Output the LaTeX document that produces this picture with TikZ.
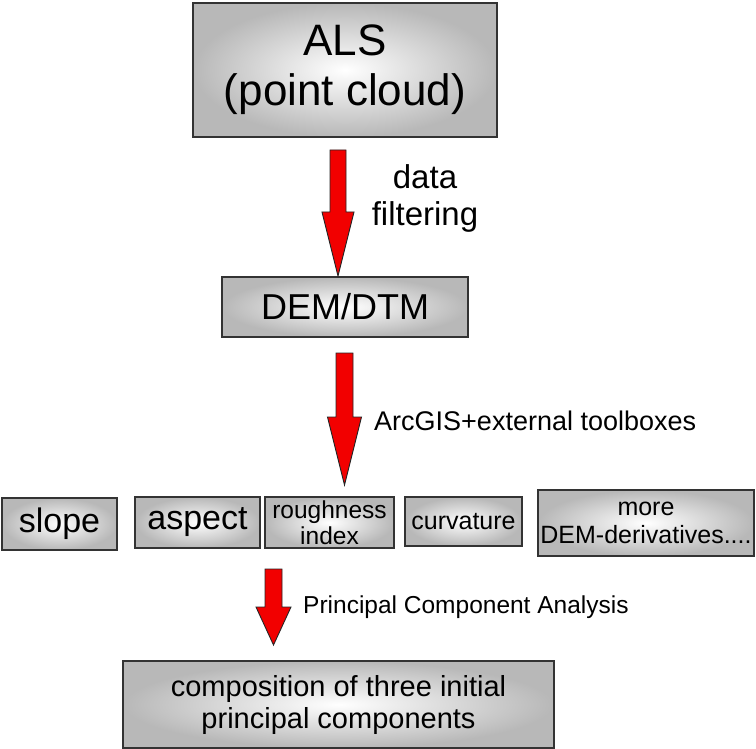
\documentclass[tikz,border=0pt]{standalone}
\usepackage{fontspec}
\setmainfont{Liberation Sans}
\usetikzlibrary{calc}
\newcommand\fatarr[5]{% start, tip, half shaft, half head, head length
  \draw[fill=red!95!black,draw=black!85,line width=0.9pt,line join=miter]
    let \p1=(#1), \p2=(#2) in
    (\x1-#3,\y1) -- (\x1+#3,\y1) -- (\x1+#3,\y2+#5) -- (\x1+#4,\y2+#5) -- (\x2,\y2)
    -- (\x1-#4,\y2+#5) -- (\x1-#3,\y2+#5) -- cycle;}
\begin{document}
\begin{tikzpicture}[x=1pt,y=-1pt,
  box/.style={draw=black!80,line width=1.2pt,inner color=white,outer color=black!28,shading=radial,align=center,inner sep=0pt},
  lbl/.style={align=center,inner sep=0pt}]
\useasboundingbox (0,0) rectangle (756,749);
\node[box,minimum width=304,minimum height=134,font=\fontsize{44}{50}\selectfont] (als) at (345,70) {ALS\\(point cloud)};
\node[box,minimum width=246,minimum height=60,font=\fontsize{36}{40}\selectfont] (dem) at (345,307) {DEM/DTM};
\node[box,minimum width=115,minimum height=52,font=\fontsize{34}{36}\selectfont] (slope) at (59.5,524) {slope};
\node[box,minimum width=125,minimum height=51,font=\fontsize{34}{36}\selectfont] (aspect) at (197.5,522.5) {aspect};
\node[box,minimum width=129,minimum height=51,font=\fontsize{24.5}{26}\selectfont] (rough) at (329.5,522.5) {roughness\\index};
\node[box,minimum width=117,minimum height=49,font=\fontsize{25}{28}\selectfont] (curv) at (463.5,521.5) {curvature};
\node[box,minimum width=216,minimum height=66,font=\fontsize{25}{28}\selectfont] (more) at (646,523) {more\\DEM-derivatives....};
\node[box,minimum width=431,minimum height=87,font=\fontsize{29}{32}\selectfont] (comp) at (338.5,704.5) {composition of three initial\\principal components};
\coordinate (a1s) at (338,150);
\coordinate (a1e) at (338,276);
\fatarr{a1s}{a1e}{8}{16}{64}
\node[lbl,font=\fontsize{33}{37}\selectfont] (t1) at (425,198) {data\\filtering};
\coordinate (a2s) at (344.5,353);
\coordinate (a2e) at (344.5,485);
\fatarr{a2s}{a2e}{8.5}{17}{68}
\node[lbl,font=\fontsize{27}{30}\selectfont,anchor=west] (t2) at (374,421) {ArcGIS+external toolboxes};
\coordinate (a3s) at (273.5,569);
\coordinate (a3e) at (273.5,645);
\fatarr{a3s}{a3e}{8.5}{17.5}{38}
\node[lbl,font=\fontsize{24.5}{28}\selectfont,anchor=west] (t3) at (303,607) {Principal Component Analysis};
\end{tikzpicture}
\end{document}
